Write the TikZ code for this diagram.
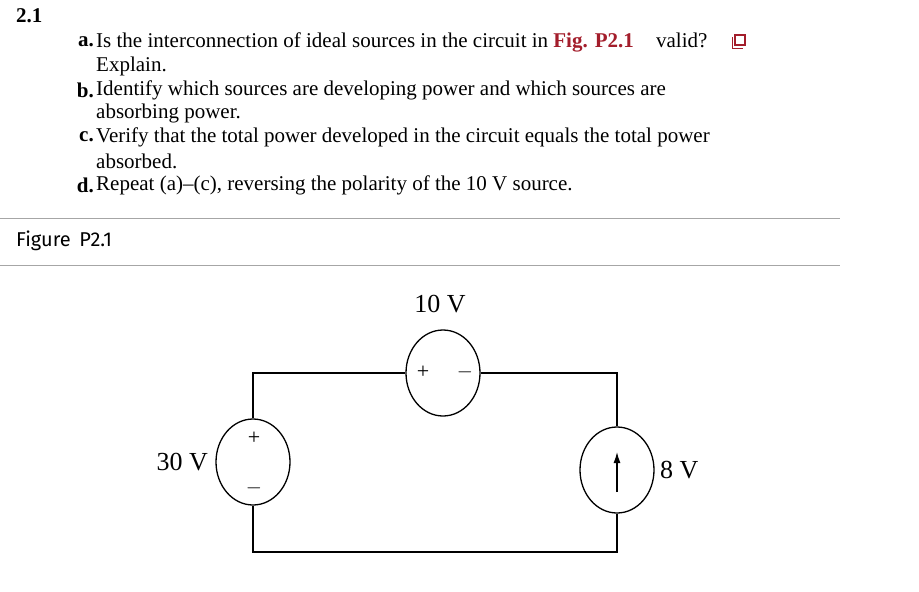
\documentclass[tikz,border=0pt]{standalone}
\usepackage{fontspec}
\usetikzlibrary{shapes.geometric,arrows.meta}
\setmainfont{Liberation Serif}
\newfontfamily\tms{Liberation Serif}
\newfontfamily\figf{Fira Sans}
\begin{document}
\begin{tikzpicture}[x=1pt,y=-1pt,
  txt/.style={anchor=west,inner sep=0pt,font=\fontsize{21}{22}\selectfont},
  lab/.style={anchor=east,inner sep=0pt,font=\fontsize{21}{22}\selectfont\bfseries},
  src/.style={draw,ellipse,minimum width=74,minimum height=86,inner sep=0pt,line width=1.3pt},
  wire/.style={line width=1.3pt},
  clab/.style={font=\tms\fontsize{26}{28}\selectfont,inner sep=0pt}]
\useasboundingbox (0,0) rectangle (919,592);
\definecolor{figred}{HTML}{A31D2B}
\node[anchor=west,inner sep=0pt,font=\fontsize{21}{22}\selectfont\bfseries] (n) at (16,16) {2.1};
\node[lab] (la) at (94,42) {a.};
\node[txt] (ta) at (96,42) {Is the interconnection of ideal sources in the circuit in \textcolor{figred}{\bfseries Fig. P2.1}\hspace{17pt} valid?};
\draw[figred,line width=1.2pt] (735,35) rectangle (745,45);
\draw[figred,line width=1pt] (732,37) -- (732,48) -- (743,48);
\node[txt] (ta2) at (96,66) {Explain.};
\node[lab] (lb) at (94,90) {b.};
\node[txt] (tb) at (96,90) {Identify which sources are developing power and which sources are};
\node[txt] (tb2) at (96,113) {absorbing power.};
\node[lab] (lc) at (94,137) {c.};
\node[txt] (tc) at (96,137) {Verify that the total power developed in the circuit equals the total power};
\node[txt] (tc2) at (96,161) {absorbed.};
\node[lab] (ld) at (94,185) {d.};
\node[txt] (td) at (96,185) {Repeat (a)--(c), reversing the polarity of the 10 V source.};
\draw[gray!70,line width=1pt] (0,218) -- (840,218);
\node[anchor=west,inner sep=0pt,font=\figf\fontsize{20}{22}\selectfont] (fig) at (16,241) {Figure\, P2.1};
\draw[gray!70,line width=1pt] (0,265) -- (840,265);
% circuit
\node[src] (v10) at (443,373) {};
\node[src] (v30) at (253,462) {};
\node[src] (is) at (617,470) {};
\coordinate (tl) at (253,373); \coordinate (tr) at (617,373);
\coordinate (bl) at (253,552); \coordinate (br) at (617,552);
\draw[wire] (v30.north) -- (tl) -- (v10.west);
\draw[wire] (v10.east) -- (tr) -- (is.north);
\draw[wire] (is.south) -- (br) -- (bl) -- (v30.south);
\node[font=\tms\fontsize{22}{22}\selectfont,inner sep=0pt] (p1) at (423,372) {+};
\node[font=\tms\fontsize{22}{22}\selectfont,inner sep=0pt] (m1) at (465,372) {$-$};
\node[font=\tms\fontsize{22}{22}\selectfont,inner sep=0pt] (p2) at (254,438) {+};
\node[font=\tms\fontsize{22}{22}\selectfont,inner sep=0pt] (m2) at (254,488) {$-$};
\coordinate (a1) at (617,492); \coordinate (a2) at (617,452);
\draw[wire,-{Latex[length=11pt,width=7pt]}] (a1) -- (a2);
\node[clab] (l10) at (440,304) {10 V};
\node[clab,anchor=east] (l30) at (208,462) {30 V};
\node[clab,anchor=west] (l8) at (660,470) {8 V};
\end{tikzpicture}
\end{document}
